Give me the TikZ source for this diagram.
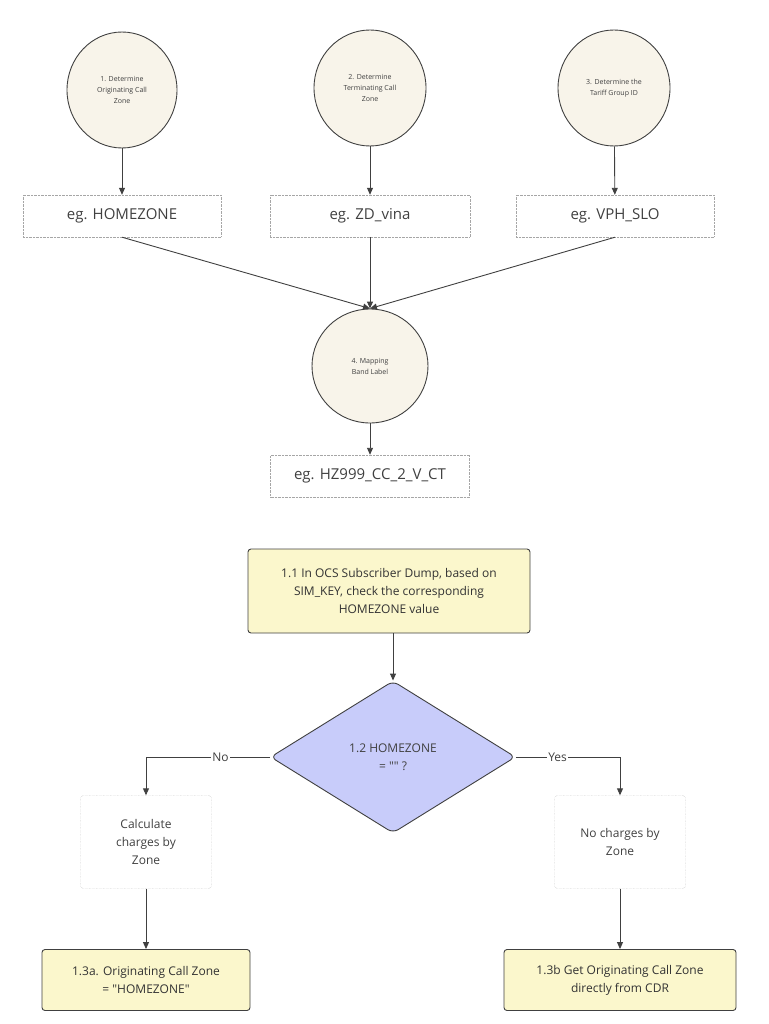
\documentclass[tikz,border=0pt]{standalone}
\usepackage{fontspec}
\setmainfont{Open Sans}[Ligatures=ResetAll]
\usetikzlibrary{shapes.geometric,arrows.meta}
\definecolor{circ}{HTML}{F8F4EA}
\definecolor{yel}{HTML}{FBF7CC}
\definecolor{dia}{HTML}{C8CCFA}
\definecolor{ln}{HTML}{404040}
\begin{document}
\begin{tikzpicture}[x=1pt,y=-1pt,
 circ/.style={ellipse,draw=ln,fill=circ,line width=0.9pt,minimum width=#1,align=center,font=\fontsize{7}{11}\selectfont,text=black!75},
 eg/.style={draw=gray!70,densely dotted,minimum width=198pt,minimum height=42pt,font=\fontsize{15}{18}\selectfont,text=black!75},
 yb/.style={draw=ln,fill=yel,rounded corners=3pt,line width=0.9pt,align=center,font=\fontsize{12}{18}\selectfont,text=black!80},
 db/.style={draw=gray!70,densely dotted,rounded corners=3pt,minimum width=131pt,minimum height=93pt,align=center,font=\fontsize{12}{18}\selectfont,text=black!75},
 ar/.style={-{Triangle[length=7pt,width=6pt]},draw=ln,line width=0.9pt},
 lb/.style={fill=white,font=\fontsize{12}{14}\selectfont,text=black!75,inner sep=1pt}]
\useasboundingbox (0,0) rectangle (768,1024);
\node[circ=110pt,minimum height=116pt] (c1) at (122,90) {1. Determine\\Originating Call\\Zone};
\node[circ=112pt,minimum height=116pt] (c2) at (370,88) {2. Determine\\Terminating Call\\Zone};
\node[circ=112pt,minimum height=116pt] (c3) at (614,88) {3. Determine the\\Tariff Group ID};
\node[eg] (e1) at (122,216) {eg. HOMEZONE};
\node[eg,minimum width=200pt] (e2) at (370,216) {eg. ZD\_vina};
\node[eg] (e3) at (615,216) {eg. VPH\_SLO};
\node[circ=116pt,minimum height=114pt] (c4) at (370,366) {4. Mapping\\Band Label};
\node[eg,minimum width=199pt] (e4) at (370,476) {eg. HZ999\_CC\_2\_V\_CT};
\draw[ar] (c1) -- (e1);
\draw[ar] (c2) -- (e2);
\draw[ar] (c3) -- (e3);
\draw[ar] (e1.south) -- (c4.north);
\draw[ar] (e2.south) -- (c4.north);
\draw[ar] (e3.south) -- (c4.north);
\draw[ar] (c4) -- (e4);
\node[yb,minimum width=282pt,minimum height=84pt] (b11) at (389,591) {1.1 In OCS Subscriber Dump, based on\\SIM\_KEY, check the corresponding\\HOMEZONE value};
\node[diamond,draw=ln,fill=dia,line width=0.9pt,rounded corners=6pt,minimum width=245pt,minimum height=152pt,inner sep=0pt,align=center,font=\fontsize{12}{18}\selectfont,text=black!75] (d) at (393,757) {1.2 HOMEZONE\\= \textquotedbl\textquotedbl{} ?};
\node[db] (n1) at (146,842) {Calculate\\charges by\\Zone};
\node[db] (n2) at (620,842) {No charges by\\Zone};
\node[yb,minimum width=208pt,minimum height=61pt] (a3) at (146,980) {1.3a. Originating Call Zone\\= \textquotedbl HOMEZONE\textquotedbl};
\node[yb,minimum width=232pt,minimum height=61pt] (b3) at (620,980) {1.3b Get Originating Call Zone\\directly from CDR};
\draw[ar] (b11.south -| d.north) -- (d.north);
\draw[ar] (d.west) -- (n1.north |- d.west) node[lb,pos=0.4] {No} -- (n1.north);
\draw[ar] (d.east) -- (n2.north |- d.east) node[lb,pos=0.4] {Yes} -- (n2.north);
\draw[ar] (n1) -- (a3);
\draw[ar] (n2) -- (b3);
\end{tikzpicture}
\end{document}
